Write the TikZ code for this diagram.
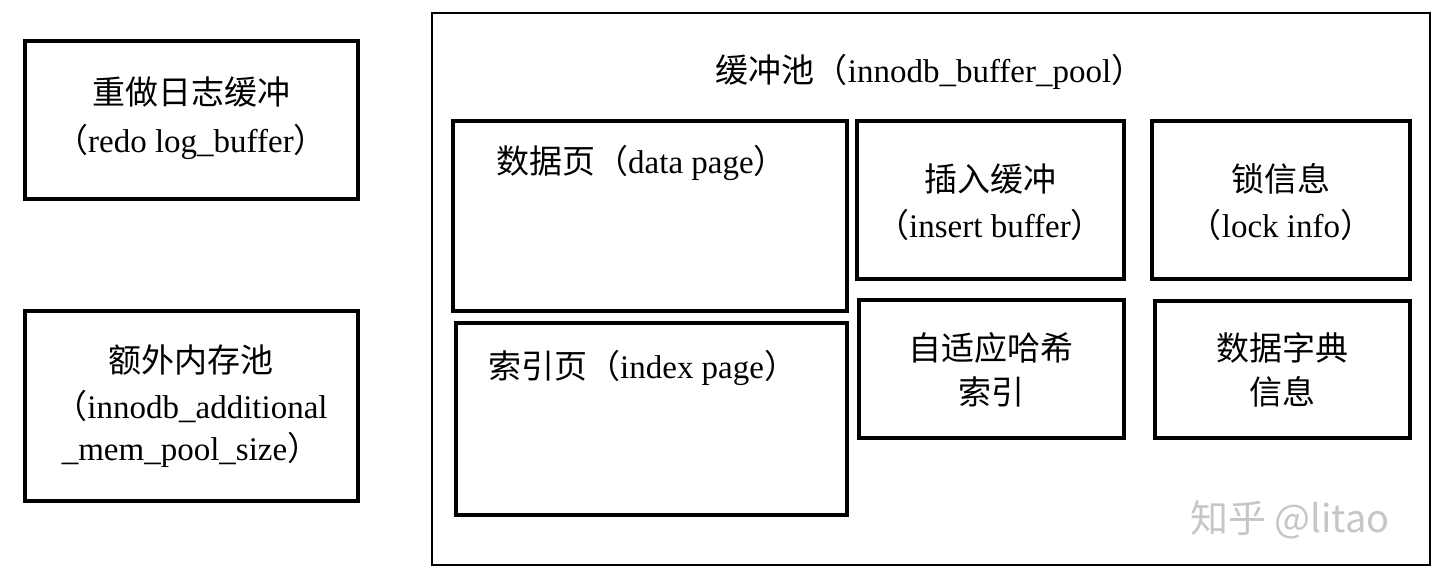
\documentclass[tikz,border=0pt]{standalone}
\usepackage{fontspec}
\setmainfont{Liberation Serif}
\newfontfamily\cjk{Noto Sans CJK SC}
\newcommand{\lp}{{\cjk （}}
\newcommand{\rp}{{\cjk ）}}
\begin{document}
\begin{tikzpicture}[x=1pt,y=-1pt,
  bx/.style={draw,line width=3.2pt},
  txt/.style={font=\fontsize{33}{42}\selectfont,align=center,inner sep=0pt}]
\useasboundingbox (0,0) rectangle (1440,580);
\draw[bx] (25,41) rectangle (358,199);
\draw[bx] (25,311) rectangle (358,501);
\draw[line width=2.4pt] (432,13) rectangle (1430,565);
\draw[bx] (453,121) rectangle (847,311);
\draw[bx] (456,323) rectangle (847,515);
\draw[bx] (857,121) rectangle (1124,279);
\draw[bx] (1152,121) rectangle (1410,279);
\draw[bx] (859,300) rectangle (1124,438);
\draw[bx] (1155,301) rectangle (1410,438);
\node[txt] (t1) at (191,118) {{\cjk 重做日志缓冲}\\[6pt]\lp redo log\_buffer\rp};
\node[txt] (t2) at (191,406) {{\cjk 额外内存池}\\[4pt]\lp innodb\_additional\\\_mem\_pool\_size\rp};
\node[txt] (t3) at (930,72) {{\cjk 缓冲池}\lp innodb\_buffer\_pool\rp};
\node[txt,anchor=west] (t4) at (496,163) {{\cjk 数据页}\lp data page\rp};
\node[txt,anchor=west] (t5) at (488,368) {{\cjk 索引页}\lp index page\rp};
\node[txt] (t6) at (990,202) {{\cjk 插入缓冲}\\[4pt]\lp insert buffer\rp};
\node[txt] (t7) at (1281,202) {{\cjk 锁信息}\\[4pt]\lp lock info\rp};
\node[txt] (t8) at (991,370) {\cjk 自适应哈希\\[2pt]\cjk 索引};
\node[txt] (t9) at (1282,370) {\cjk 数据字典\\[2pt]\cjk 信息};
\node[txt,text=gray!45,font=\cjk\fontsize{38}{40}\selectfont] (wm) at (1290,520) {知乎 @litao};
\end{tikzpicture}
\end{document}
